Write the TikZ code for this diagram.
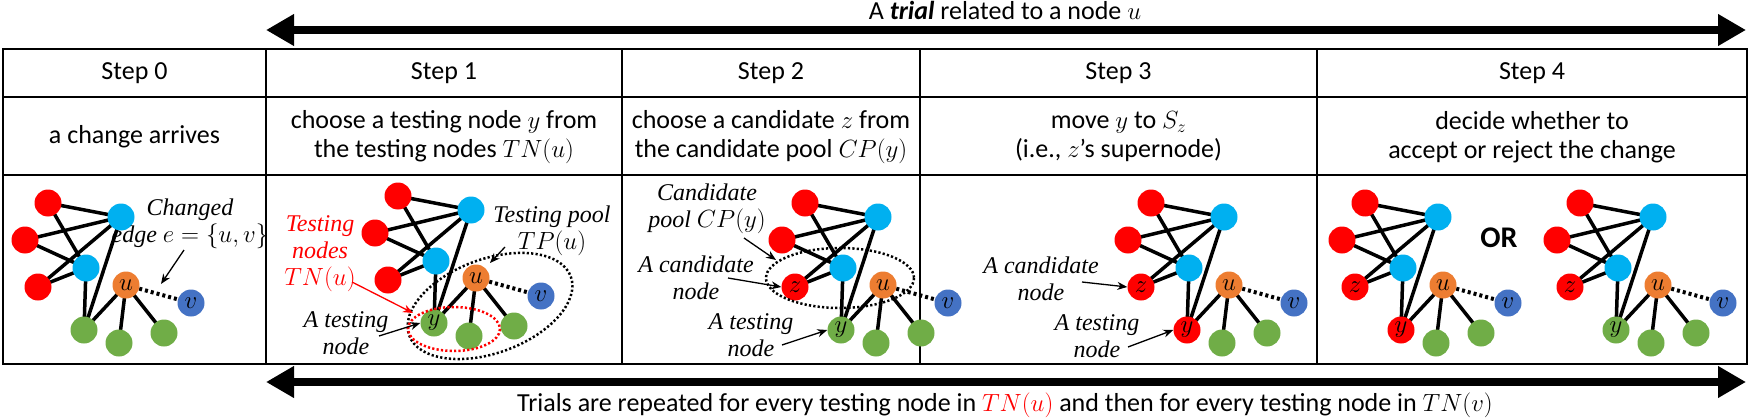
\documentclass[tikz,border=0pt]{standalone}
\usepackage{fontspec}
\setmainfont{Carlito}
\newfontfamily\lab{Liberation Serif}
\usetikzlibrary{arrows.meta,backgrounds}
\definecolor{cR}{HTML}{FF0000}
\definecolor{cC}{HTML}{00B0F0}
\definecolor{cO}{HTML}{ED7D31}
\definecolor{cB}{HTML}{4472C4}
\definecolor{cG}{HTML}{70AD47}
\tikzset{
  nd/.style={circle,minimum size=27pt,inner sep=0pt,font=\fontsize{30}{30}\selectfont},
  ed/.style={line width=3.5pt},
  dt/.style={line width=4pt,dash pattern=on 3pt off 3pt},
  el/.style={line width=2.5pt,dash pattern=on 2.2pt off 2.2pt},
  lb/.style={font=\lab\itshape\fontsize{24}{27}\selectfont,align=center},
  tx/.style={font=\fontsize{26}{29}\selectfont,align=center},
  ar/.style={-{Stealth[length=10pt,width=8pt]},line width=1.3pt},
  big/.style={line width=8pt,{Triangle[length=28pt,width=30pt]}-{Triangle[length=28pt,width=30pt]}},
  tb/.style={line width=1.5pt}
}
\newcommand\mygraph[6]{%
\begin{scope}[shift={(#2,#3)}]
\node[nd,fill=cR] (#1r1) at (48,203) {};
\node[nd,fill=cR] (#1r2) at (25,240) {};
\node[nd,fill=cR] (#1r3) at (38,287) {#4};
\node[nd,fill=cC] (#1b1) at (121,217) {};
\node[nd,fill=cC] (#1b2) at (86,268) {};
\node[nd,fill=cO] (#1u) at (126,285) {$u$};
\node[nd,fill=cB] (#1v) at (191,303) {$v$};
\node[nd,fill=#5] (#1g1) at (84,330) {#6};
\node[nd,fill=cG] (#1g2) at (119,343) {};
\node[nd,fill=cG] (#1g3) at (164,333) {};
\begin{scope}[on background layer]
\draw[ed] (#1r1.center)--(#1b1.center) (#1r1.center)--(#1b2.center)
 (#1r2.center)--(#1b1.center) (#1r2.center)--(#1b2.center)
 (#1r3.center)--(#1b1.center) (#1r3.center)--(#1b2.center)
 (#1b1.center)--(#1g1.center) (#1b2.center)--(#1g1.center)
 (#1g1.center)--(#1u.center) (#1u.center)--(#1g2.center) (#1u.center)--(#1g3.center);
\draw[dt] (#1u)--(#1v);
\end{scope}
\end{scope}}
\begin{document}
\begin{tikzpicture}[x=1pt,y=-1pt]
\useasboundingbox (0,0) rectangle (1749,420);
% table
\draw[tb] (3,49) rectangle (1747,364);
\draw[tb] (3,97)--(1747,97) (3,175)--(1747,175);
\foreach \x in {266,622,920,1317} \draw[tb] (\x,49)--(\x,364);
% arrows
\coordinate (tl) at (266,30); \coordinate (tr) at (1746,30);
\coordinate (bl) at (266,382); \coordinate (br) at (1746,382);
\draw[big] (tl)--(tr);
\draw[big] (bl)--(br);
\node[tx] (top) at (1005,10) {A \textbf{\textit{trial}} related to a node $u$};
\node[tx] (bot) at (1005,405) {Trials are repeated for every testing node in \textcolor{cR}{$TN(u)$} and then for every testing node in $TN(v)$};
% headers
\node[tx] (h0) at (134.5,73) {Step 0};
\node[tx] (h1) at (444,73) {Step 1};
\node[tx] (h2) at (771,73) {Step 2};
\node[tx] (h3) at (1118.5,73) {Step 3};
\node[tx] (h4) at (1532,73) {Step 4};
\node[tx] (t0) at (134.5,137) {a change arrives};
\node[tx] (t1) at (444,137) {choose a testing node $y$ from\\the testing nodes $TN(u)$};
\node[tx] (t2) at (771,137) {choose a candidate $z$ from\\the candidate pool $CP(y)$};
\node[tx] (t3) at (1118.5,137) {move $y$ to $S_z$\\(i.e., $z$'s supernode)};
\node[tx] (t4) at (1532,137) {decide whether to\\accept or reject the change};
% graphs
\mygraph{a}{0}{0}{}{cG}{}
\mygraph{b}{350}{-7}{}{cG}{$y$}
\mygraph{c}{757}{0}{$z$}{cG}{$y$}
\mygraph{d}{1103}{0}{$z$}{cR}{$y$}
\mygraph{e}{1317}{0}{$z$}{cR}{$y$}
\mygraph{f}{1532}{0}{$z$}{cG}{$y$}
\node[font=\bfseries\fontsize{30}{30}\selectfont] (or) at (1499,238) {OR};
% step 0 labels
\node[lb] (l0) at (190,224) {Changed\\edge $e=\{u,v\}$};
\coordinate (l0e) at (161,284);
\draw[ar] (184,250)--(l0e);
% step 1 labels
\draw[el] (490,306) ellipse [x radius=86, y radius=47, rotate=20];
\draw[el,cR] (454,329) ellipse [x radius=46, y radius=22];
\node[lb,text=cR] (l1a) at (320,254) {Testing\\nodes\\$TN(u)$};
\coordinate (l1ae) at (413,313);
\draw[ar,cR] (352,282)--(l1ae);
\node[lb] (l1b) at (552,231) {Testing pool\\$TP(u)$};
\coordinate (l1be) at (490,263);
\draw[ar] (505,247)--(l1be);
\node[lb] (l1c) at (346,333) {A testing\\node};
\draw[ar] (379,336)--(bg1.west);
% step 2 labels
\draw[el] (840,278) ellipse [x radius=74, y radius=30];
\node[lb] (l2a) at (707,209) {Candidate\\pool $CP(y)$};
\coordinate (l2ae) at (776,260);
\draw[ar] (744,238)--(l2ae);
\node[lb] (l2b) at (696,278) {A candidate\\node};
\draw[ar] (728,278)--(cr3.west);
\node[lb] (l2c) at (751,335) {A testing\\node};
\draw[ar] (782,345)--(cg1.west);
% step 3 labels
\node[lb] (l3a) at (1041,279) {A candidate\\node};
\draw[ar] (1082,282)--(dr3.west);
\node[lb] (l3b) at (1097,336) {A testing\\node};
\draw[ar] (1128,347)--(dg1.west);
\end{tikzpicture}
\end{document}
